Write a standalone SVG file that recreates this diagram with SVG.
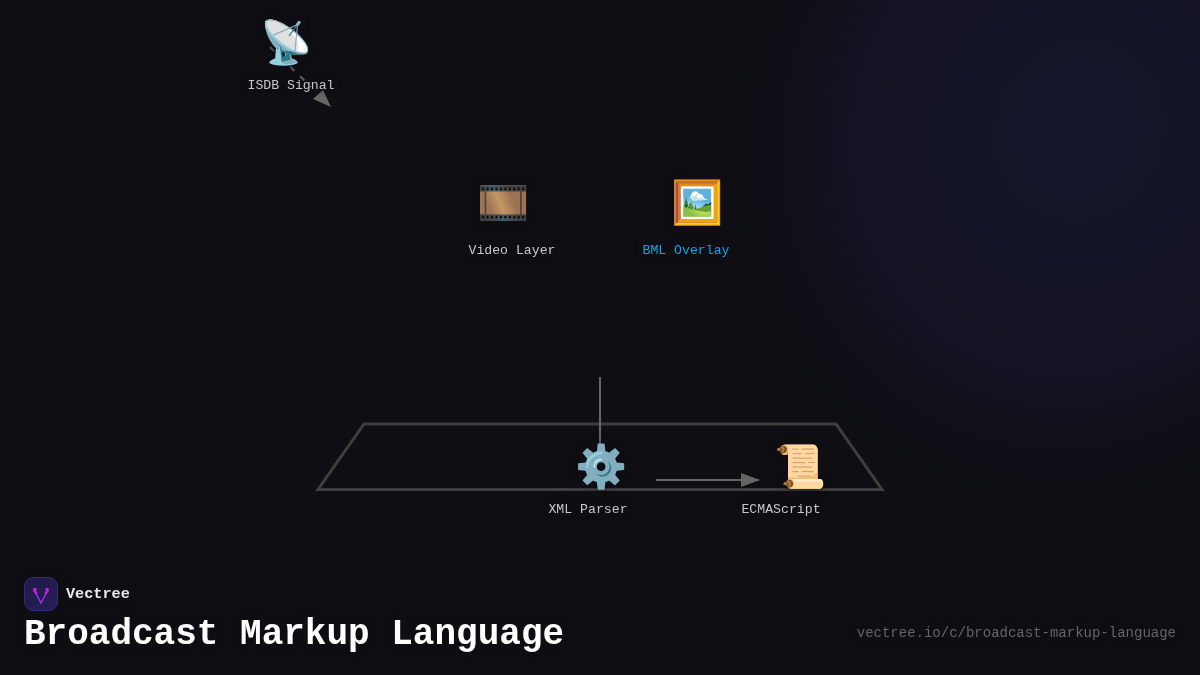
<svg xmlns="http://www.w3.org/2000/svg" width="1200" height="675" viewBox="0 0 1200 675">
<style>
.lbl{font-family:"Liberation Mono",monospace;font-size:13.200px;fill:#c8c8c8;text-anchor:middle}
.em{font-family:"Noto Color Emoji","DejaVu Sans",sans-serif;font-size:42px;text-anchor:middle}
.c{stroke:#666;fill:none;stroke-width:2}
.n{filter:drop-shadow(0 0 4px #0e0e13)}
</style>
<defs>
<radialGradient id="glow" gradientUnits="userSpaceOnUse" cx="0" cy="0" r="1" gradientTransform="translate(1080 130) rotate(20) scale(400 440)">
<stop offset="0" stop-color="#15162c" stop-opacity="1"/>
<stop offset="0.55" stop-color="#141428" stop-opacity="0.8"/>
<stop offset="1" stop-color="#0e0e13" stop-opacity="0"/>
</radialGradient>
<linearGradient id="logo" x1="0" y1="0" x2="1" y2="1"><stop offset="0" stop-color="#1e1b4b"/><stop offset="1" stop-color="#2a1d55"/></linearGradient>
<marker id="arr" markerUnits="userSpaceOnUse" markerWidth="20" markerHeight="14" refX="18" refY="7" orient="auto"><path d="M0 0L19 7L0 14Z" fill="#666"/></marker>
</defs>
<rect id="bg" width="1200" height="675" fill="#0e0e13"/>
<rect width="1200" height="675" fill="url(#glow)"/>
<path id="frame" d="M364 424H836L882 489.500H318Z" fill="none" stroke="#3f3f3f" stroke-width="3"/>
<g id="connectors">
<path class="c" d="M270 47L311 87" stroke-dasharray="6 8" stroke-width="1.500"/>
<path d="M331 107L313 99L323 90Z" fill="#666"/>
<path class="c" d="M600 377V445" stroke-width="1.500"/>
<path class="c" d="M656 480H759" marker-end="url(#arr)"/>
</g>
<g id="isdb-signal" class="n"><text class="em" x="287" y="56.500">📡</text><text class="lbl" x="291" y="89">ISDB Signal</text></g>
<g id="video-layer" class="n"><text class="em" x="504" y="217">🎞️</text><text class="lbl" x="512" y="254">Video Layer</text></g>
<g id="bml-overlay" class="n"><text class="em" x="697.500" y="217">🖼️</text><text class="lbl" x="686" y="254" style="fill:#0ea5e9">BML Overlay</text></g>
<g id="xml-parser" class="n"><text class="em" x="602" y="480.500">⚙️</text><text class="lbl" x="588" y="513">XML Parser</text></g>
<g id="ecmascript" class="n"><text class="em" x="800.500" y="480.500">📜</text><text class="lbl" x="781" y="513">ECMAScript</text></g>
<g id="brand" class="n">
<rect x="24.500" y="577.500" width="33" height="33" rx="9" fill="url(#logo)" stroke="#312e81"/>
<path d="M35 592L41 603L47 592" fill="none" stroke="#9333ea" stroke-width="1.500"/>
<path d="M33.500 590L37 594M48.500 590L45 594" stroke="#c026d3" stroke-width="2" fill="none"/>
<circle cx="35" cy="589.500" r="1.800" fill="#c026d3"/><circle cx="47" cy="589.500" r="1.800" fill="#c026d3"/>
<text x="66" y="598" style="font-family:'Liberation Mono',monospace;font-size:15.200px;font-weight:700;fill:#e8e8e8">Vectree</text>
<text x="24" y="644" style="font-family:'Liberation Mono',monospace;font-size:36px;font-weight:700;fill:#fff">Broadcast Markup Language</text>
<text x="1176" y="637" style="font-family:'Liberation Mono',monospace;font-size:14px;fill:#666;text-anchor:end">vectree.io/c/broadcast-markup-language</text>
</g>
</svg>
